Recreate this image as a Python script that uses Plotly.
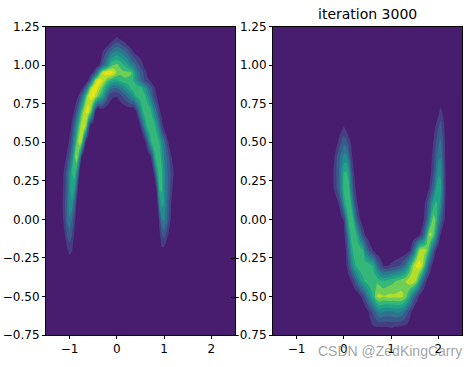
import plotly.graph_objects as go
from plotly.subplots import make_subplots

# density, row by row (step 0.05 along x).
# each row: y, then runs of (x of first value, values); everything else is background
rows_left = [
    (1.25, []),
    (1.2, [(0.0, [0.5])]),
    (1.15, [(-0.15, [0.7, 1.1, 1.6, 1.9, 1.6, 1.3, 1, 0.5])]),
    (1.1, [(-0.3, [0.8, 1.2, 1.8, 2.4, 3, 3.4, 3.7, 3.5, 3.2, 2.8, 2.4, 1.9, 1.2, 0.7])]),
    (1.0, [(-0.4, [0.6, 1.2, 2.5, 3.5, 4.5, 6, 6.8, 7.1, 7.3, 6.9, 6.5, 6, 5.5, 4.8, 4, 3.5, 3, 2.3, 1.7, 1.1, 0.4])]),
    (0.95, [(-0.55, [0.5, 1.1, 2.5, 4.5, 7.2, 9, 9.6, 9.8, 9.8, 9.5, 8.8, 7.9, 7.4, 7.3, 7.3, 7.3, 7.3, 7.2, 6, 4.5, 3.5, 2.8, 2.2, 1.4, 0.8])]),
    (0.9, [(-0.6, [1.2, 3, 5.5, 8.5, 9.5, 9.6, 9, 8, 7, 6.5, 6, 5.5, 5.8, 6.2, 6.5, 6.8, 6.8, 6.7, 6.5, 6, 5, 4, 3.2, 2.4, 1.7, 1.2, 1, 0.3])]),
    (0.85, [(-0.75, [0.7, 1.3, 3, 5.5, 8.5, 9.5, 9.7, 9, 8, 7, 6, 4.8, 3.6, 3, 2.8, 2.9, 3.3, 3.8, 4.3, 4.9, 5.5, 6.2, 6.7, 6.9, 6.8, 6.5, 5.8, 4.8, 3.8, 2.8, 2, 1.2, 0.5])]),
    (0.8, [(-0.85, [0.6, 1.2, 2.5, 4.5, 7, 8.8, 9.7, 9.6, 8.7, 7.5, 6.5, 5.5, 4, 2.6, 1.6, 1.2, 1.1, 1.1, 1.4, 1.9, 2.4, 3, 3.6, 4.4, 5, 6, 6.6, 6.8, 6.7, 6.2, 5, 3.8, 2.6, 1.6, 0.8])]),
    (0.7, [(-0.95, [0.5, 1.1, 2.3, 4.2, 6.5, 8.2, 9.3, 9.2, 7.5, 4, 0.5, -1]),
           (0.35, [-0.5, 0.8, 2.5, 4.2, 6, 6.8, 6.9, 6.7, 5.5, 4, 2.8, 1.3, 0.5])]),
    (0.6, [(-1.0, [0.5, 1.3, 3, 5, 7, 8.7, 9.1, 7.5, 2.5, -0.5]),
           (0.45, [-0.5, 0.9, 2.8, 4.8, 6.5, 6.9, 6.9, 6.5, 5, 3.5, 1.6, 0.6])]),
    (0.5, [(-1.05, [0.5, 1.3, 2.6, 4.5, 7, 8.6, 8.2, 4, 0.2]),
           (0.55, [-0.5, 0.6, 2.5, 5, 6.7, 7, 6.9, 6, 4.5, 3.4, 1.9, 0.7])]),
    (0.4, [(-1.1, [0.6, 1.4, 2.6, 4.2, 6.8, 8.3, 5.5, 1, -1]),
           (0.7, [0.2, 2, 5.5, 7, 6.9, 5.5, 4, 3, 2.3, 1.2, 0.5])]),
    (0.3, [(-1.15, [0.7, 1.5, 2.8, 4.4, 6, 6.7, 5, 1.4, -1]),
           (0.75, [0, 1.8, 5, 6.9, 6.2, 4.5, 3.4, 2.6, 1.8, 1, 0.3])]),
    (0.2, [(-1.15, [0.8, 1.6, 2.8, 4.7, 6, 5.2, 2.5, -0.3]),
           (0.8, [-0.5, 1.8, 6.2, 6.3, 4.5, 3.4, 2.6, 1.5, 0.6])]),
    (0.1, [(-1.2, [0.3, 1, 1.9, 3.2, 5, 4.8, 3, 0.8, -1]),
           (0.85, [0.2, 4, 5.3, 5, 3.4, 2.2, 1, 0.2])]),
    (0.0, [(-1.15, [0.8, 1.7, 3.2, 3.9, 3, 1.6, 0.2]),
           (0.85, [-1, 1.6, 4, 4.2, 3.2, 2, 0.8])]),
    (-0.1, [(-1.1, [1, 2.2, 2.6, 2, 0.8]),
            (0.9, [0.7, 2, 2.5, 1.6, 0.7])]),
    (-0.2, [(-1.05, [0.8, 1.5, 1.1, 0.3]),
            (0.9, [0.2, 0.8, 0.6])]),
    (-0.3, []),
]

rows_right = [
    (0.8, []),
    (0.7, [(2.0, [0.6, 1.4, 0.7])]),
    (0.6, [(-0.05, [0.6, 1.05, 0.6]),
           (1.9, [0.6, 1.2, 1.9, 2.4, 1.6, 0.5])]),
    (0.5, [(-0.15, [0.7, 1.5, 2.2, 2.7, 2.4, 1.6, 1, 0.3]),
           (1.85, [0.6, 1.1, 2, 2.8, 3.2, 2, 0.8])]),
    (0.4, [(-0.25, [0.3, 1, 2, 2.8, 3.6, 4.4, 4.5, 3.4, 1.6, 0.6]),
           (1.85, [0.8, 1.6, 2.8, 3.8, 4, 2.4, 0.9])]),
    (0.3, [(-0.25, [0.7, 1.3, 2.2, 3, 4.5, 6, 6.2, 5.5, 3, 1.4, 0.2]),
           (1.8, [0.3, 1.1, 2, 3.4, 4.8, 4.8, 2.8, 1.1])]),
    (0.2, [(-0.25, [0.6, 1.2, 2, 2.9, 4.5, 6.3, 6.7, 6.6, 4, 2, 0.9]),
           (1.75, [0.2, 0.9, 2, 3.2, 5, 5.8, 5.5, 3, 1.1])]),
    (0.1, [(-0.15, [0.5, 1.2, 2.6, 5, 6.4, 6.8, 6, 3.6, 1.8, 0.8]),
           (1.65, [0.2, 0.8, 1.7, 2.8, 4.5, 5.8, 6.2, 5.8, 4.5, 2.6, 0.9])]),
    (0.0, [(-0.05, [0.7, 1.1, 4, 6.4, 6.7, 6, 3.4, 1.8, 0.9, 0.3]),
           (1.65, [0.4, 1.1, 2.2, 4, 6.5, 7.5, 6.8, 4.5, 3, 1.7, 0.7])]),
    (-0.1, [(0.0, [0.7, 2, 4.5, 6.3, 6.7, 6.5, 5, 3.3, 2, 1, 0.4]),
            (1.6, [0.8, 1.5, 3, 5.5, 8.1, 8.3, 7, 5, 2.6, 0.9])]),
    (-0.2, [(0.05, [1.2, 3, 5, 6.3, 6.7, 6.8, 6.6, 6.2, 4, 2.8, 1.8, 1.1, 0.5]),
            (1.35, [0.3, 0.9, 2.2, 4, 6.3, 8.1, 8.5, 8.5, 8, 6.5, 4, 2.4, 1, 0.3])]),
    (-0.3, [(0.05, [0.8, 2, 3.5, 5, 6, 6.6, 6.8, 6.9, 6.9, 6.8, 6.5, 6.1, 5, 3.4, 2.4, 1.4, 0.9, 0.9, 1, 1.2, 1.4, 1.6, 1.8, 2.2,
                    2.8, 3.5, 4.5, 6, 7.5, 8.8, 9.4, 9.6, 8.8, 7, 4.5, 2.5, 1.2, 0.4])]),
    (-0.4, [(0.1, [0.3, 0.8, 1.5, 2.6, 3.8, 4.8, 5.6, 6.2, 6.6, 6.8, 6.8, 6.9, 6.8, 6.5, 6.2, 6, 6.2, 6.4, 6.6, 6.8, 7, 7.2, 7.5, 7.7,
                   8, 8.4, 8.8, 9.1, 8.5, 7.5, 5.5, 3.6, 2, 0.9, 0.2])]),
    (-0.5, [(0.35, [0.8, 1.4, 2.5, 3.8, 4.8, 5.8, 6.8, 8.1, 8.4, 8.2, 8.1, 8.2, 8.3, 8.3, 8.2, 8.2, 8.3, 8.3, 8.1, 7.6, 6.6, 5.2, 3.8, 2.6, 1.5, 0.7])]),
    (-0.6, [(0.45, [0.2, 0.6, 1.3, 2, 2.8, 3.5, 4.2, 4.2, 4, 3.8, 3.8, 3.9, 4, 4.2, 4.2, 4, 3.6, 3, 2.2, 1.4, 0.7])]),
    (-0.7, [(0.55, [0.6, 0.8, 0.9, 0.9, 0.9, 0.9, 0.9, 0.9, 1, 1.05, 1, 0.9, 0.8, 0.8, 0.7, 0.7, 0.6, 0.4])]),
    (-0.8, []),
]

band_colors = ["#481c6e", "#443f83", "#3b5a8c", "#2e748f", "#238c8d", "#20a386",
               "#35b779", "#6ece58", "#b5de2b", "#e5e419"]
x_ticks = [-1, 0, 1, 2]
x_labels = ["\u22121", "0", "1", "2"]
y_ticks = [1.25, 1.0, 0.75, 0.5, 0.25, 0.0, -0.25, -0.5, -0.75]
y_labels = ["1.25", "1.00", "0.75", "0.50", "0.25", "0.00", "\u22120.25", "\u22120.50", "\u22120.75"]

W, H = 474, 367
STEP = 0.05


def to_grid(rows, x0, x1):
    n = round((x1 - x0) / STEP) + 1
    xs = [round(x0 + i * STEP, 2) for i in range(n)]
    ys = []
    zs = []
    for y, runs in rows:
        row = [0] * n
        for start, vals in runs:
            i0 = round((start - x0) / STEP)
            for i, v in enumerate(vals):
                row[i0 + i] = v
        ys.append(y)
        zs.append(row)
    return xs, ys, zs


# stepped colorscale, one flat colour per band
scale = []
n_bands = len(band_colors)
for i, c in enumerate(band_colors):
    scale.append([i / n_bands, c])
    scale.append([(i + 1) / n_bands, c])


def contour(x, y, z):
    return go.Contour(x=x, y=y, z=z, zmin=0, zmax=10, colorscale=scale, showscale=False,
                      autocontour=False, contours=dict(start=1, end=9, size=1, coloring="fill"),
                      line=dict(width=0, smoothing=0.3), hoverinfo="skip")


fig = make_subplots(rows=1, cols=2)
xl, yl, zl = to_grid(rows_left, -1.4, 1.4)
xr, yr, zr = to_grid(rows_right, -0.4, 2.4)
fig.add_trace(contour(xl, yl, zl), row=1, col=1)
fig.add_trace(contour(xr, yr, zr), row=1, col=2)

axis_style = dict(showgrid=False, zeroline=False, showline=True, mirror=True, linecolor="black",
                  linewidth=1, ticks="outside", ticklen=3, tickwidth=1, tickcolor="black", automargin=False,
                  tickfont=dict(family="DejaVu Sans", size=12, color="black"))
ydom = [1 - 335 / H, 1 - 26.5 / H]
fig.update_layout(
    width=W, height=H, margin=dict(l=0, r=0, t=0, b=0), paper_bgcolor="white", plot_bgcolor=band_colors[0],
    showlegend=False,
    xaxis=dict(domain=[46 / W, 235 / W], range=[-1.5, 2.5], tickvals=x_ticks, ticktext=x_labels, **axis_style),
    yaxis=dict(domain=ydom, range=[-0.75, 1.25], tickvals=y_ticks, ticktext=y_labels, **axis_style),
    xaxis2=dict(domain=[273 / W, 462 / W], range=[-1.5, 2.5], tickvals=x_ticks, ticktext=x_labels, **axis_style),
    yaxis2=dict(domain=ydom, range=[-0.75, 1.25], tickvals=y_ticks, ticktext=y_labels, **axis_style),
)
fig.add_annotation(text="iteration 3000", x=367 / W, y=1 - 14.5 / H, xref="paper", yref="paper", showarrow=False,
                   xanchor="center", yanchor="middle",
                   font=dict(family="DejaVu Sans", size=14, color="black"))
fig.add_annotation(text="CSDN @ZedKingCarry", x=390 / W, y=1 - 351 / H, xref="paper", yref="paper", showarrow=False,
                   xanchor="center", yanchor="middle",
                   font=dict(family="Liberation Sans", size=14, color="rgba(120,120,120,0.7)"))

fig.write_html("out.html", config=dict(displayModeBar=False), post_script="document.body.style.margin='0';")
